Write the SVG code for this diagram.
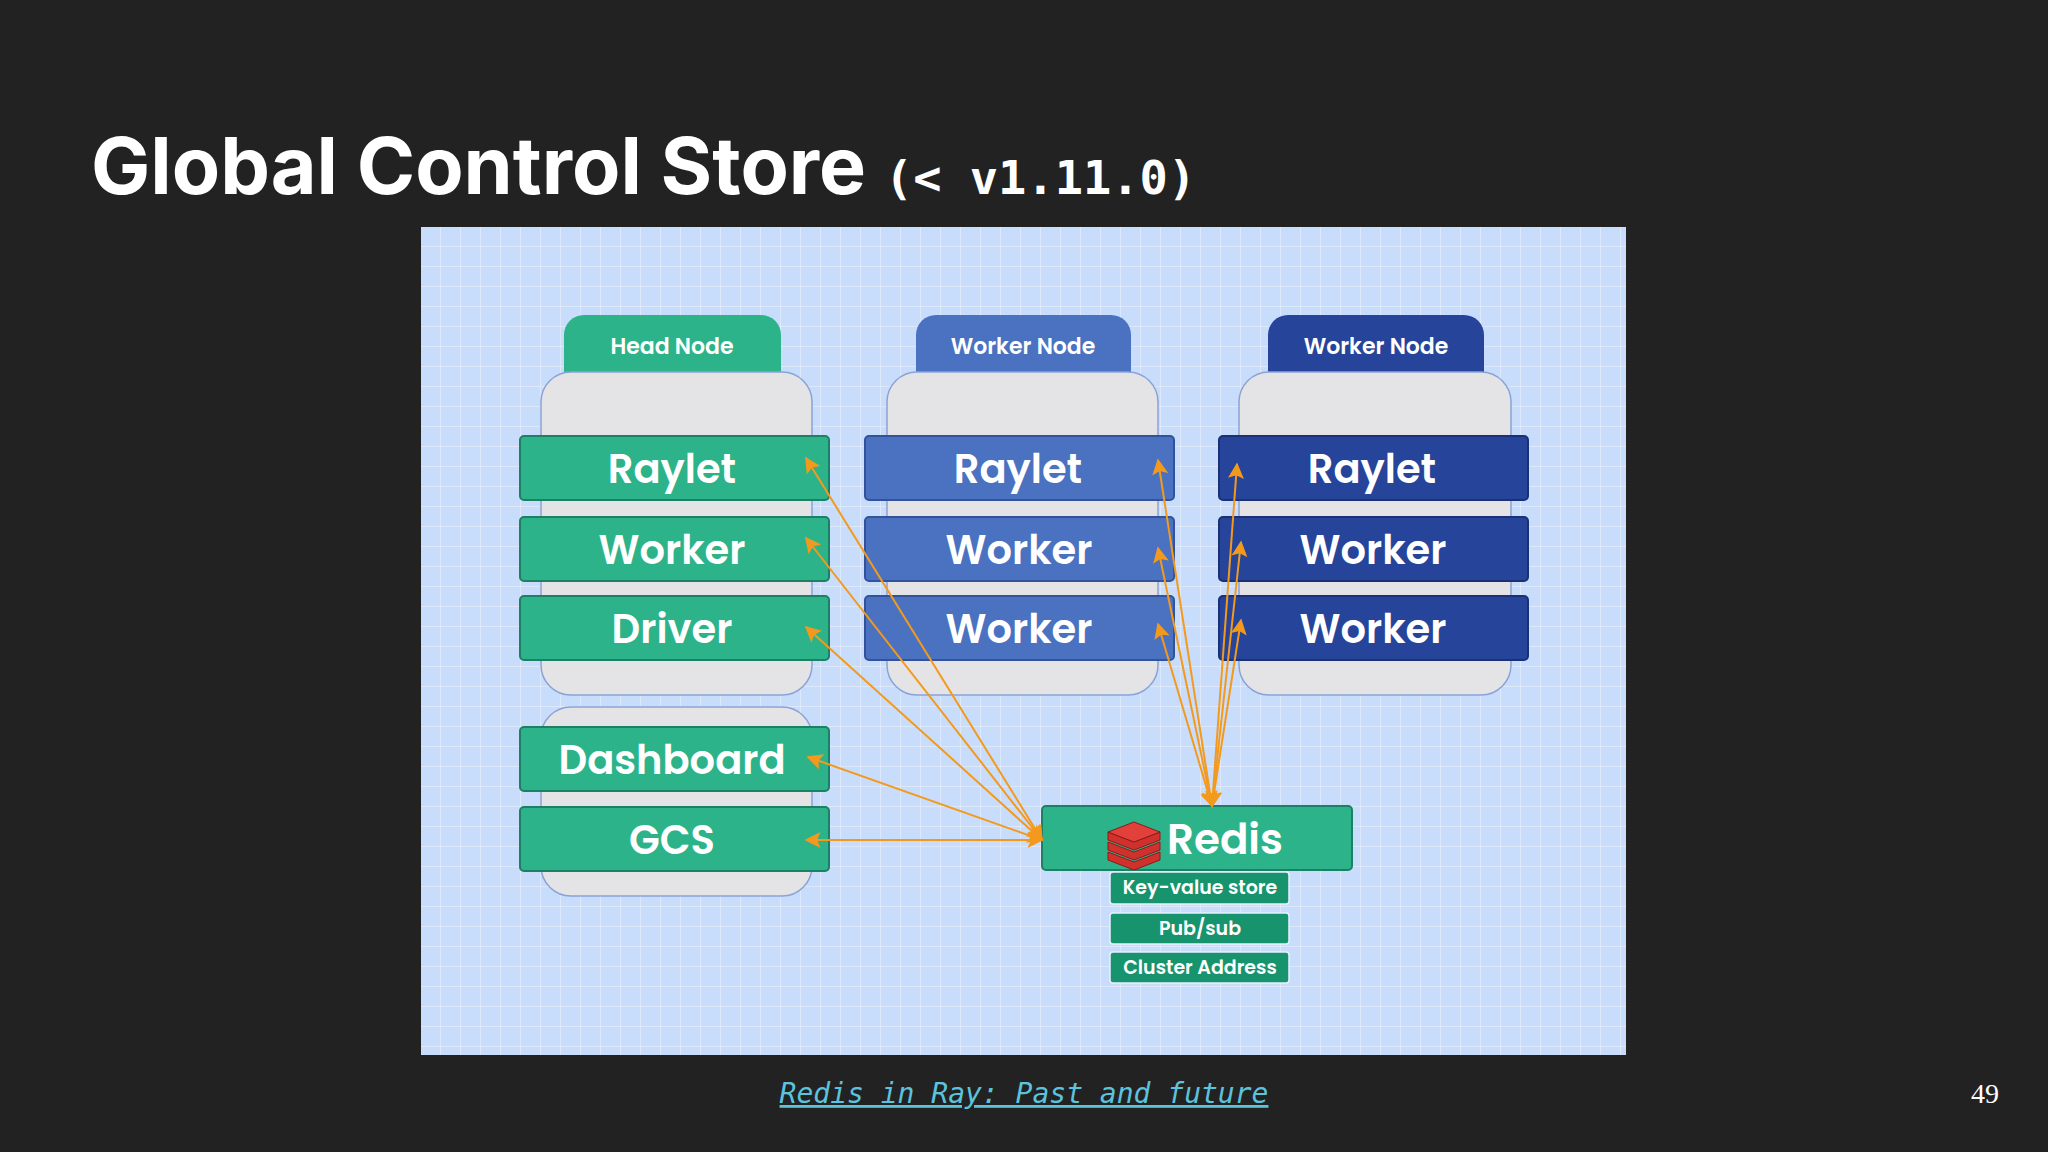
<svg xmlns="http://www.w3.org/2000/svg" width="2048" height="1152" viewBox="0 0 2048 1152">
<defs>
<pattern id="grid" width="20" height="20" patternUnits="userSpaceOnUse" x="421" y="227">
<rect width="20" height="20" fill="#c8ddfb"/>
<path d="M20 0V20M0 20H20" stroke="#e4eefc" stroke-width="1.5" fill="none"/>
</pattern>
<marker id="ah" viewBox="0 0 10 10" refX="9" refY="5" markerWidth="18" markerHeight="16" orient="auto-start-reverse" markerUnits="userSpaceOnUse">
<path d="M0 0L10 5L0 10L2 5z" fill="#f39a1e"/>
</marker>
<style>
.cont{fill:#e4e4e6;stroke:#8aa3d6;stroke-width:1.5}
.g{fill:#2db38a;stroke:#1d7f63;stroke-width:2}
.b1{fill:#4a72c0;stroke:#32539a;stroke-width:2}
.b2{fill:#25449a;stroke:#1a3275;stroke-width:2}
.sub{fill:#17946e;stroke:#e6f0ff;stroke-width:1.5}
.lbl{font-family:Poppins,"Open Sans",Inter,sans-serif;font-weight:600;fill:#fff;text-anchor:middle}
.row{font-size:40px}
.tab{font-size:22px}
.sm{font-size:19px}
.c line{stroke:#f39a1e;stroke-width:2;marker-start:url(#ah);marker-end:url(#ah)}
</style>
</defs>
<rect width="2048" height="1152" fill="#222223"/>
<text x="91" y="194" font-family="Inter,'Open Sans',sans-serif" font-weight="700" font-size="79" fill="#fff">Global Control Store <tspan font-family="'DejaVu Sans Mono','Liberation Mono',monospace" font-size="47">(&lt; v1.11.0)</tspan></text>
<rect x="421" y="227" width="1205" height="828" fill="url(#grid)"/>
<g id="head">
<path d="M564 377V335a20 20 0 0 1 20-20h177a20 20 0 0 1 20 20v42z" fill="#2db38a"/>
<text class="lbl tab" x="672" y="354">Head Node</text>
<rect class="cont" x="541" y="372" width="271" height="323" rx="30"/>
<rect class="g" x="520" y="436" width="309" height="64" rx="4"/><text class="lbl row" x="672" y="483">Raylet</text>
<rect class="g" x="520" y="517" width="309" height="64" rx="4"/><text class="lbl row" x="672" y="564">Worker</text>
<rect class="g" x="520" y="596" width="309" height="64" rx="4"/><text class="lbl row" x="672" y="643">Driver</text>
</g>
<g id="gcsgroup">
<rect class="cont" x="541" y="707" width="271" height="189" rx="30"/>
<rect class="g" x="520" y="727" width="309" height="64" rx="4"/><text class="lbl row" x="672" y="774">Dashboard</text>
<rect class="g" x="520" y="807" width="309" height="64" rx="4"/><text class="lbl row" x="672" y="854">GCS</text>
</g>
<g id="worker1">
<path d="M916 377V335a20 20 0 0 1 20-20h175a20 20 0 0 1 20 20v42z" fill="#4a72c0"/>
<text class="lbl tab" x="1023" y="354">Worker Node</text>
<rect class="cont" x="887" y="372" width="271" height="323" rx="30"/>
<rect class="b1" x="865" y="436" width="309" height="64" rx="4"/><text class="lbl row" x="1018" y="483">Raylet</text>
<rect class="b1" x="865" y="517" width="309" height="64" rx="4"/><text class="lbl row" x="1019" y="564">Worker</text>
<rect class="b1" x="865" y="596" width="309" height="64" rx="4"/><text class="lbl row" x="1019" y="643">Worker</text>
</g>
<g id="worker2">
<path d="M1268 377V335a20 20 0 0 1 20-20h176a20 20 0 0 1 20 20v42z" fill="#25449a"/>
<text class="lbl tab" x="1376" y="354">Worker Node</text>
<rect class="cont" x="1239" y="372" width="272" height="323" rx="30"/>
<rect class="b2" x="1219" y="436" width="309" height="64" rx="4"/><text class="lbl row" x="1372" y="483">Raylet</text>
<rect class="b2" x="1219" y="517" width="309" height="64" rx="4"/><text class="lbl row" x="1373" y="564">Worker</text>
<rect class="b2" x="1219" y="596" width="309" height="64" rx="4"/><text class="lbl row" x="1373" y="643">Worker</text>
</g>
<g id="redis">
<rect class="g" x="1042" y="806" width="310" height="64" rx="4"/>
<g fill="#d0312d" stroke="#8e1a17" stroke-width="1">
<path d="M1108 852l26 10 26-10v8l-26 10-26-10z"/>
<path d="M1108 842l26 10 26-10v8l-26 10-26-10z"/>
<path d="M1108 832l26 10 26-10v8l-26 10-26-10z"/>
<path d="M1108 832l26-10 26 10-26 10z" fill="#e2403a"/>
</g>
<text class="lbl" x="1225" y="854" font-size="42">Redis</text>
<rect class="sub" x="1110" y="872" width="179" height="32" rx="3"/><text class="lbl sm" x="1200" y="894">Key-value store</text>
<rect class="sub" x="1110" y="913" width="179" height="31" rx="3"/><text class="lbl sm" x="1200" y="935">Pub/sub</text>
<rect class="sub" x="1110" y="952" width="179" height="31" rx="3"/><text class="lbl sm" x="1200" y="974">Cluster Address</text>
</g>
<g id="connectors" class="c">
<line x1="1042" y1="840" x2="806" y2="458"/>
<line x1="1042" y1="840" x2="806" y2="538"/>
<line x1="1042" y1="840" x2="806" y2="627"/>
<line x1="1042" y1="840" x2="808" y2="757"/>
<line x1="1042" y1="840" x2="806" y2="840"/>
<line x1="1212" y1="806" x2="1158" y2="460"/>
<line x1="1212" y1="806" x2="1158" y2="548"/>
<line x1="1212" y1="806" x2="1158" y2="624"/>
<line x1="1212" y1="806" x2="1237" y2="464"/>
<line x1="1212" y1="806" x2="1241" y2="542"/>
<line x1="1212" y1="806" x2="1241" y2="620"/>
</g>
<text x="1024" y="1103" text-anchor="middle" font-family="'DejaVu Sans Mono','Liberation Mono',monospace" font-style="italic" font-size="28" fill="#5cc3dc" text-decoration="underline">Redis in Ray: Past and future</text>
<text x="1985" y="1103" text-anchor="middle" font-family="'Liberation Serif',serif" font-size="28" fill="#fff">49</text>
</svg>
